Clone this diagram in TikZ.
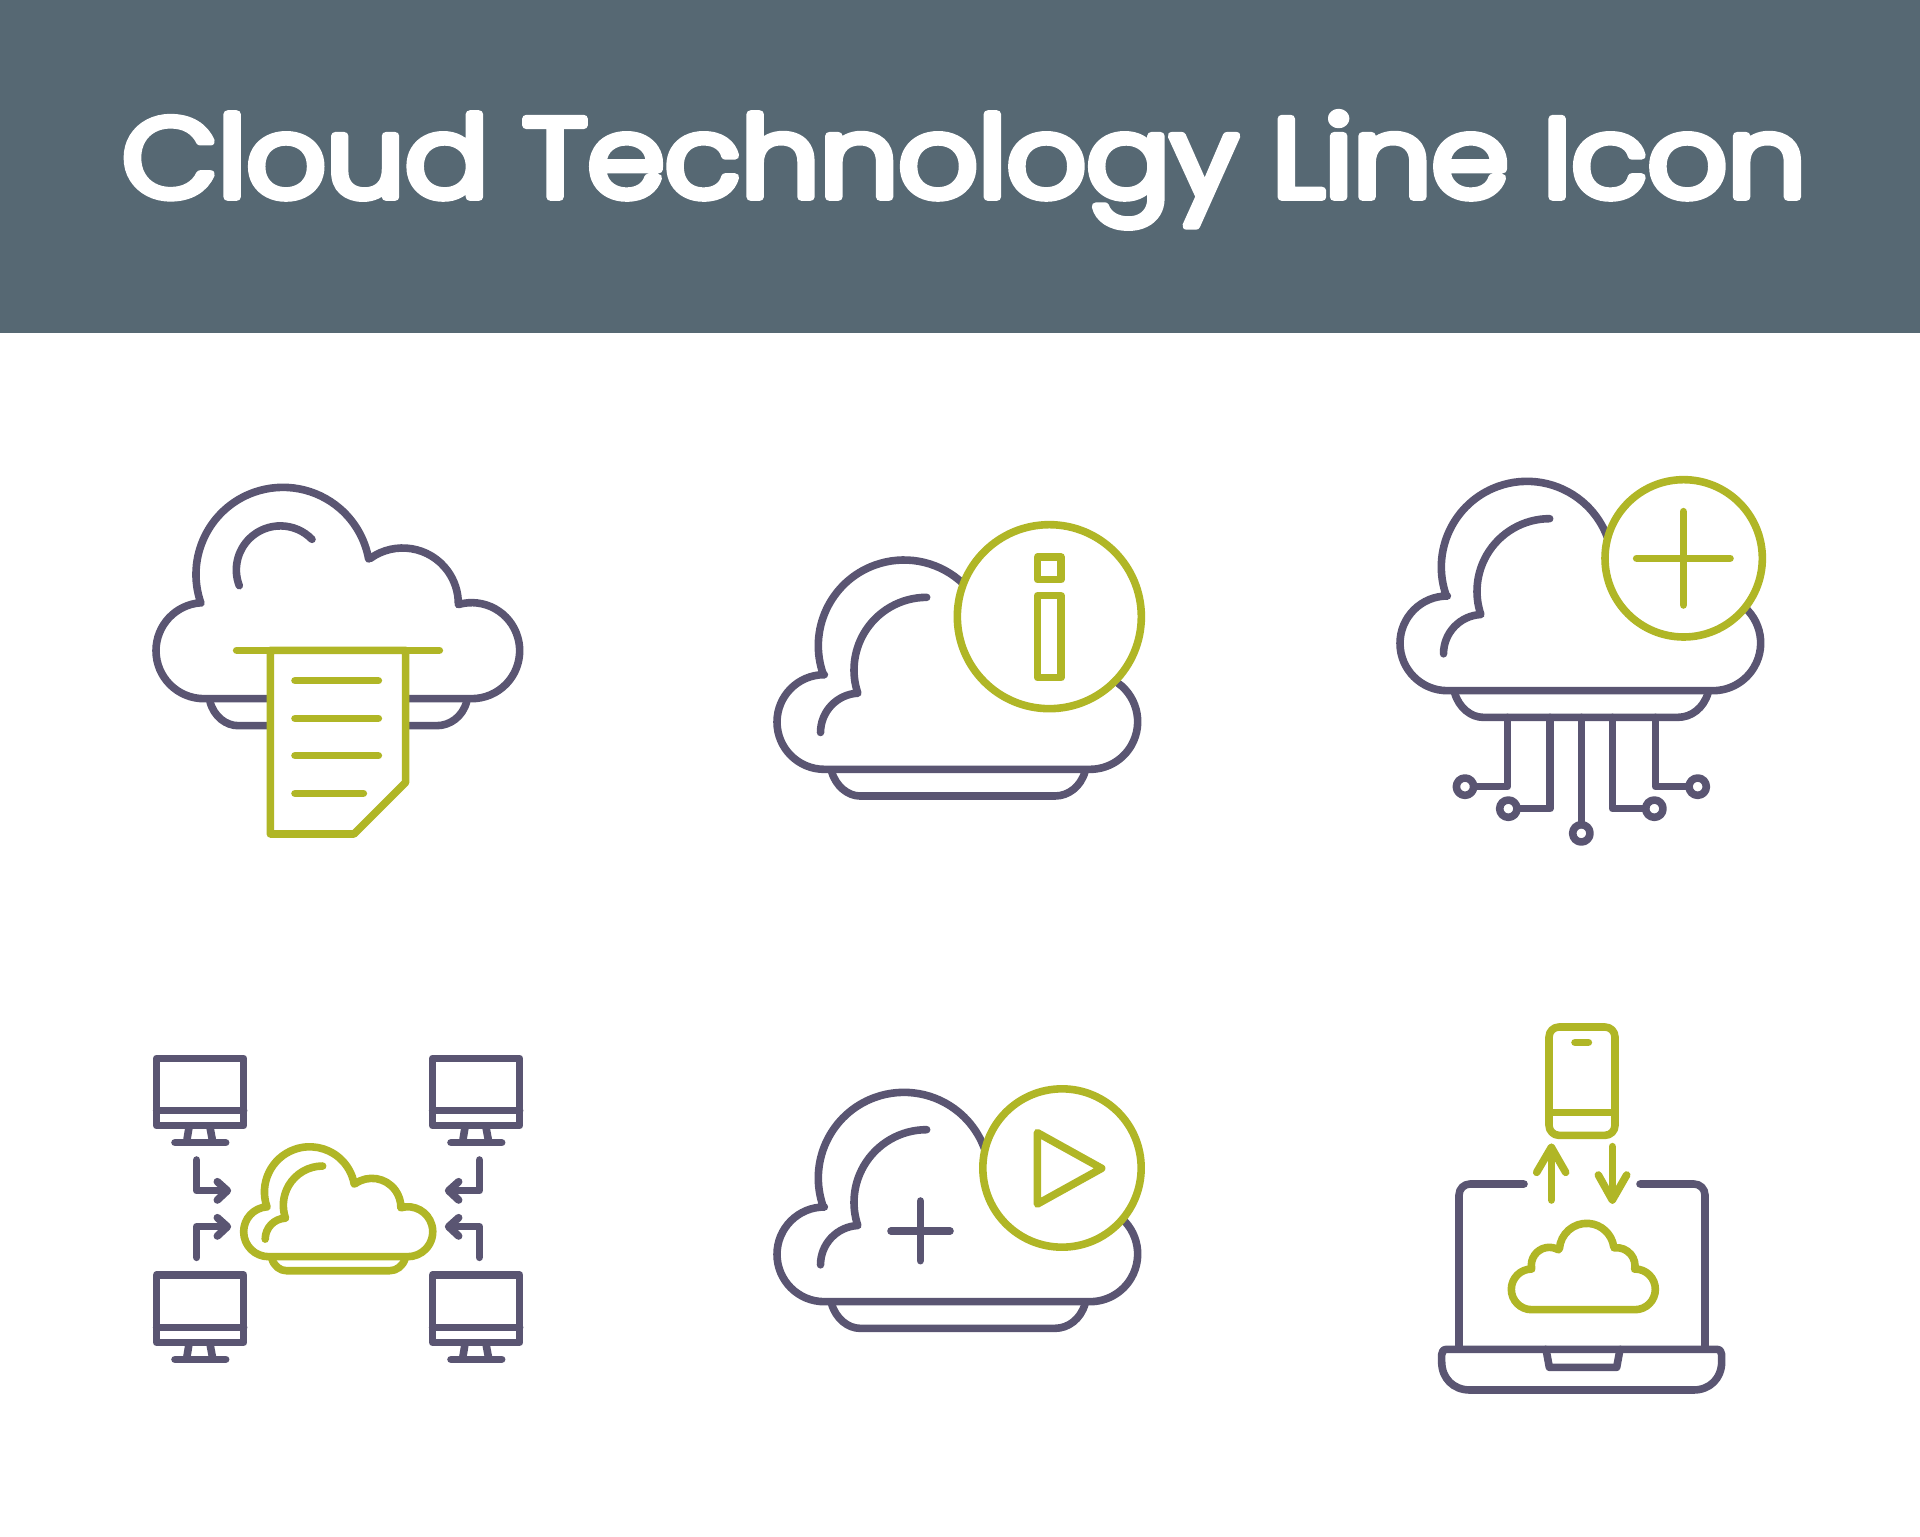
\documentclass[tikz,border=0pt]{standalone}
\usepackage{graphicx}
\usepackage{fontspec}
\newfontfamily\titlefont[FakeBold=7]{Poppins Light}
\definecolor{bandc}{HTML}{566873}
\definecolor{purp}{HTML}{5A5572}
\definecolor{grn}{HTML}{B0B626}
\tikzset{
  pur/.style={draw=purp,line width=3.8pt,line cap=round,line join=round},
  gre/.style={draw=grn,line width=3.8pt,line cap=round,line join=round},
}
% cloud with three lobes (first icon); style as #1
\newcommand{\cloudthree}[1]{%
  \draw[#1] (222,572) ++(90:144) arc[start angle=90,end angle=266,radius=144]
    (459,343) ++(160.7:261) arc[start angle=160.7,end angle=349.8,radius=261]
    (818,431) ++(234.2:167) arc[start angle=234.2,end angle=360,radius=167]
    (1025,572) ++(254:144) arc[start angle=254,end angle=450,radius=144]
    -- (222,716);
  \draw[#1] (240,725) .. controls (252,770) and (288,797) .. (325,797) -- (920,797)
    .. controls (960,797) and (998,770) .. (1010,725);
}
% cloud with two lobes, inner highlight and plate (icons 2, 3, 5)
\newcommand{\cloudtwo}[1]{%
  \draw[#1] (193,666) ++(90:142) arc[start angle=90,end angle=270,radius=142]
    (432,437) ++(160:257) arc[start angle=160,end angle=345,radius=257]
    (990,665) ++(-60:143) arc[start angle=-60,end angle=90,radius=143]
    -- (193,808);
  \draw[#1] (215,815) .. controls (228,860) and (265,888) .. (300,888) -- (885,888)
    .. controls (925,888) and (962,860) .. (975,815);
  \draw[#1] (500,292) arc[start angle=270,end angle=161.4,radius=218]
    arc[start angle=267,end angle=180,radius=118];
}
% monitor, in the coordinates of the fourth icon's upper left one
\newcommand{\monitor}{%
  \draw[pur] (80,55) rectangle (341,257);
  \draw[pur] (80,212) -- (341,212);
  \draw[pur] (177,262) -- (170,305) (240,262) -- (248,305);
  \draw[pur] (135,308) -- (287,308);
}
\begin{document}
\begin{tikzpicture}[x=0.5pt,y=0.5pt,yscale=-1]
\useasboundingbox (0,0) rectangle (1920,1536);
\fill[white] (0,0) rectangle (1920,1536);
\fill[bandc] (0,0) rectangle (1920,333);
\node[text=white,inner sep=0pt,anchor=base] (title) at (964,197)
  {\special{pdf:code 1 j 1 J}\resizebox{842pt}{\height}{\titlefont\fontsize{56}{62}\selectfont Cloud Technology Line Icon}};

% --- icon 1: cloud with document
\begin{scope}[shift={(130,460)},scale=1/3]
  \cloudthree{pur}
  \draw[pur] (546,238) arc[start angle=-44,end angle=-201,radius=132];
  \draw[gre,fill=white] (421,571) -- (421,1122) -- (672,1122) -- (827,967) -- (827,571) -- cycle;
  \draw[gre] (320,571) -- (928,571);
  \draw[gre] (495,662) -- (745,662) (495,775) -- (745,775) (495,887) -- (745,887) (495,1000) -- (700,1000);
\end{scope}

% --- icon 2: cloud with info
\begin{scope}[shift={(760,500)},scale=1/3]
  \cloudtwo{pur}
  \draw[gre,fill=white] (868,350) circle[radius=276];
  \draw[gre] (833,171) rectangle (903,239);
  \draw[gre] (833,287) rectangle (903,533);
\end{scope}

% --- icon 3: cloud with plus and circuit
\begin{scope}[shift={(1383,421.33)},scale=1/3]
  \cloudtwo{pur}
\end{scope}
\begin{scope}[shift={(1380,460)},scale=1/3]
  \draw[gre,fill=white] (911,295) circle[radius=236];
  \draw[gre] (770,295) -- (1050,295) (910,155) -- (910,435);
  \draw[pur] (382,772) -- (382,980) -- (281,980);
  \draw[pur] (510,772) -- (510,1046) -- (411,1046);
  \draw[pur] (604,772) -- (604,1094);
  \draw[pur] (697,772) -- (697,1046) -- (797,1046);
  \draw[pur] (826,772) -- (826,980) -- (927,980);
  \draw[pur] (255,980) circle[radius=26];
  \draw[pur] (385,1046) circle[radius=26];
  \draw[pur] (604,1120) circle[radius=26];
  \draw[pur] (823,1046) circle[radius=26];
  \draw[pur] (953,980) circle[radius=26];
\end{scope}

% --- icon 4: monitors around a cloud
\begin{scope}[shift={(130,1040)},scale=1/3]
  \monitor
  \begin{scope}[shift={(828,0)}]\monitor\end{scope}
  \begin{scope}[shift={(0,650)}]\monitor\end{scope}
  \begin{scope}[shift={(828,650)}]\monitor\end{scope}
  \draw[pur] (200,360) -- (200,452) -- (290,452);
  \draw[pur] (262,425) -- (292,452) -- (262,480);
  \draw[pur] (200,652) -- (200,560) -- (290,560);
  \draw[pur] (262,533) -- (292,560) -- (262,588);
  \draw[pur] (1048,360) -- (1048,452) -- (958,452);
  \draw[pur] (986,425) -- (956,452) -- (986,480);
  \draw[pur] (1048,652) -- (1048,560) -- (958,560);
  \draw[pur] (986,533) -- (956,560) -- (986,588);
  \begin{scope}[shift={(300.4,277.7)},scale=0.52]
    \cloudthree{gre}
  \end{scope}
  \draw[gre] (578,378) arc[start angle=270,end angle=161,radius=118]
    arc[start angle=268,end angle=180,radius=63];
\end{scope}

% --- icon 5: cloud with plus and play
\begin{scope}[shift={(760,1032.33)},scale=1/3]
  \cloudtwo{pur}
\end{scope}
\begin{scope}[shift={(760,1070)},scale=1/3]
  \draw[pur] (393,483) -- (570,483) (481,393) -- (481,572);
  \draw[gre,fill=white] (906,294) circle[radius=237.5];
  \draw[gre] (832,188) -- (1025,295) -- (832,402) -- cycle;
\end{scope}

% --- icon 6: laptop, phone, cloud
\begin{scope}[shift={(1420,1010)},scale=1/3]
  \draw[gre,rounded corners=5pt] (387,51) rectangle (585,376);
  \draw[gre] (387,308) -- (585,308);
  \draw[gre] (465,97) -- (505,97);
  \draw[gre] (394,570) -- (394,412);
  \draw[gre] (350,487) -- (394,412) -- (437,487);
  \draw[gre] (577,410) -- (577,570);
  \draw[gre] (535,495) -- (577,570) -- (620,495);
  \draw[pur,rounded corners=5.5pt] (312,522) -- (117,522) -- (117,1015);
  \draw[pur,rounded corners=5.5pt] (660,522) -- (855,522) -- (855,1015);
  \draw[pur] (80,1018) -- (890,1018) .. controls (900,1018) and (905,1025) .. (905,1034)
    -- (905,1055) .. controls (905,1105) and (870,1140) .. (820,1140) -- (150,1140)
    .. controls (100,1140) and (65,1105) .. (65,1055) -- (65,1034)
    .. controls (65,1025) and (70,1018) .. (80,1018) -- cycle;
  \draw[pur] (378,1018) -- (388,1072) -- (590,1072) -- (600,1018);
  \draw[gre] (335,838) ++(90:61) arc[start angle=90,end angle=270,radius=61]
    (388,766) ++(170:54) arc[start angle=170,end angle=300,radius=54]
    (500,722) ++(184:82) arc[start angle=184,end angle=352,radius=82]
    (590,768) ++(262:55) arc[start angle=262,end angle=370,radius=55]
    (645,838) ++(-90:61) arc[start angle=-90,end angle=90,radius=61]
    -- (335,899);
\end{scope}
\end{tikzpicture}
\end{document}
